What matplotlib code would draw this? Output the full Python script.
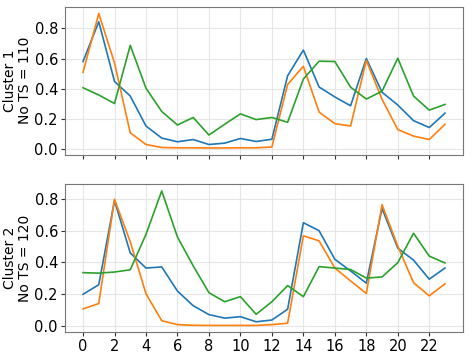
import numpy as np
import matplotlib

matplotlib.use('Agg')
import matplotlib.pyplot as plt

hours = list(range(24))

# cluster 1
c1_blue = [0.58, 0.845, 0.447, 0.35, 0.15, 0.07, 0.045, 0.06, 0.027, 0.036, 0.067, 0.047,
           0.062, 0.485, 0.656, 0.41, 0.344, 0.285, 0.60, 0.375, 0.29, 0.186, 0.14, 0.236]
c1_orange = [0.508, 0.90, 0.57, 0.105, 0.027, 0.007, 0.005, 0.005, 0.004, 0.004, 0.005, 0.005,
             0.01, 0.427, 0.548, 0.243, 0.166, 0.15, 0.587, 0.328, 0.126, 0.083, 0.06, 0.162]
c1_green = [0.405, 0.357, 0.30, 0.688, 0.402, 0.247, 0.157, 0.207, 0.09, 0.162, 0.231, 0.193,
            0.207, 0.175, 0.463, 0.582, 0.58, 0.409, 0.33, 0.382, 0.602, 0.35, 0.256, 0.294]

# cluster 2
c2_blue = [0.20, 0.26, 0.79, 0.46, 0.365, 0.372, 0.22, 0.128, 0.072, 0.05, 0.059, 0.027,
           0.038, 0.106, 0.65, 0.60, 0.42, 0.347, 0.27, 0.74, 0.49, 0.415, 0.295, 0.365]
c2_orange = [0.108, 0.142, 0.798, 0.53, 0.203, 0.034, 0.009, 0.005, 0.004, 0.004, 0.004, 0.004,
             0.009, 0.018, 0.568, 0.536, 0.365, 0.284, 0.205, 0.764, 0.502, 0.273, 0.19, 0.266]
c2_green = [0.336, 0.333, 0.34, 0.354, 0.577, 0.85, 0.56, 0.379, 0.21, 0.153, 0.185, 0.074,
            0.153, 0.255, 0.185, 0.374, 0.365, 0.356, 0.302, 0.309, 0.399, 0.584, 0.44, 0.397]

labels = ['Cluster 1\nNo TS = 110', 'Cluster 2\nNo TS = 120']
data = [(c1_blue, c1_orange, c1_green), (c2_blue, c2_orange, c2_green)]

fig, axes = plt.subplots(2, 1, figsize=(4.74, 3.56), dpi=100, sharex=True)
fig.subplots_adjust(left=0.137, right=0.977, top=0.981, bottom=0.067, hspace=0.2)

for ax, series, lab in zip(axes, data, labels):
    for s, c in zip(series, ['tab:blue', 'tab:orange', 'tab:green']):
        ax.plot(hours, s, color=c, lw=1.2)
    ax.set_ylabel(lab, fontsize=10, labelpad=2, linespacing=1.05)
    ax.set_yticks([0.0, 0.2, 0.4, 0.6, 0.8])
    ax.set_xticks(np.arange(0, 24, 2))
    ax.grid(True, color='#e6e6e6', lw=0.8)
    ax.tick_params(labelsize=10.5, colors='#333333', length=3, pad=2)
    ax.tick_params(labelcolor='black')
    for sp in ax.spines.values():
        sp.set_color('#777777')

fig.savefig('out.png', dpi=100)
